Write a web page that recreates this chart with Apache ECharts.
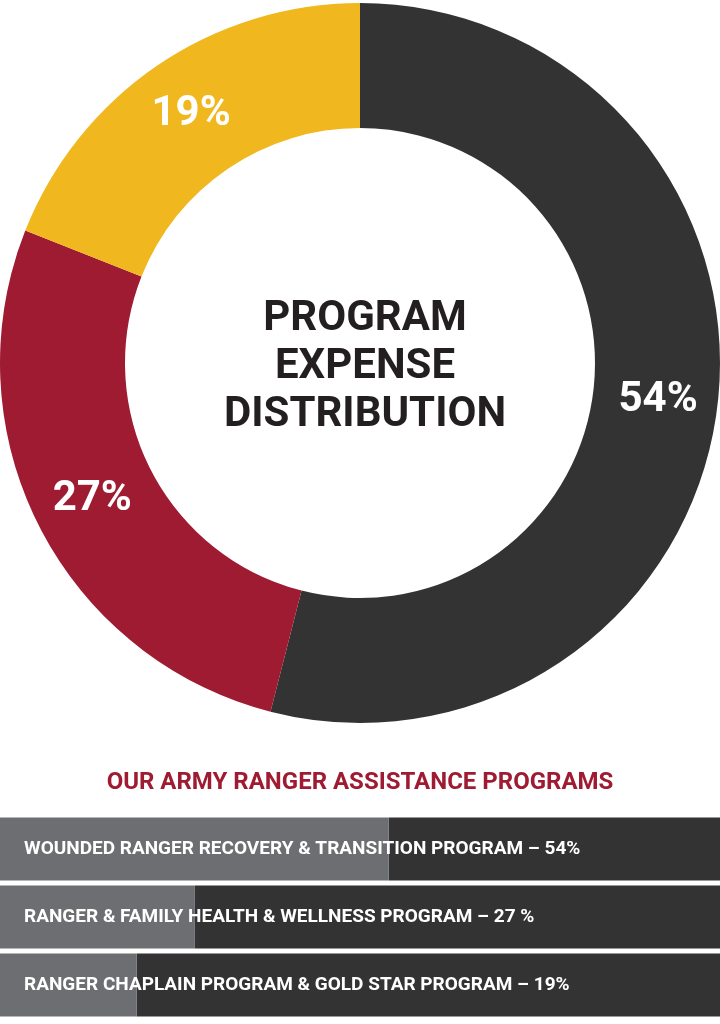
<!DOCTYPE html>
<html><head><meta charset="utf-8">
<script src="https://cdn.jsdelivr.net/npm/echarts@6/dist/echarts.min.js"></script>
<style>html,body{margin:0;padding:0;background:#fff}#c{width:720px;height:1024px}</style>
</head><body><div id="c"></div>
<script>
const sliceNames = ['Wounded Ranger Recovery & Transition', 'Ranger & Family Health & Wellness', 'Ranger Chaplain & Gold Star'];
const sliceValues = [54, 27, 19];
const sliceColors = ['#333333', '#9e1b32', '#f0b81e'];
const programLabels = [
  'WOUNDED RANGER RECOVERY & TRANSITION PROGRAM – 54%',
  'RANGER & FAMILY HEALTH & WELLNESS PROGRAM – 27 %',
  'RANGER CHAPLAIN PROGRAM & GOLD STAR PROGRAM – 19%'
];
const programValues = [54, 27, 19];
const remainder = programValues.map(v => 100 - v);

const chart = echarts.init(document.getElementById('c'));
chart.setOption({
  animation: false,
  title: [{
    text: 'OUR ARMY RANGER ASSISTANCE PROGRAMS', left: 'center', top: 766,
    textStyle: {color: '#9e1b32', fontFamily: 'Roboto', fontWeight: 'bold', fontSize: 24}
  }, {
    text: 'PROGRAM\nEXPENSE\nDISTRIBUTION', left: 360, top: 362, textAlign: 'center', textVerticalAlign: 'middle',
    textStyle: {color: '#231f20', fontFamily: 'Roboto', fontWeight: 'bold', fontSize: 42, lineHeight: 48}
  }],
  grid: {left: 0, right: 0, top: 815, bottom: 5},
  xAxis: {type: 'value', min: 0, max: 100, show: false},
  yAxis: {type: 'category', data: programLabels, inverse: true, show: false},
  series: [{
    type: 'pie', radius: [235, 360], center: [360, 363], startAngle: 90, clockwise: true,
    data: sliceNames.map((n, i) => ({name: n, value: sliceValues[i], itemStyle: {color: sliceColors[i]}})),
    label: {position: 'inside', formatter: '{c}%', color: '#fff', fontFamily: 'Roboto', fontWeight: 'bold', fontSize: 42},
    labelLine: {show: false}, emphasis: {disabled: true}
  }, {
    type: 'bar', stack: 's', data: programValues, barWidth: 63, itemStyle: {color: '#6d6e71'},
    label: {show: true, position: 'insideLeft', distance: 24, formatter: p => programLabels[p.dataIndex],
      color: '#fff', fontFamily: 'Roboto', fontWeight: 'bold', fontSize: 19}
  }, {
    type: 'bar', stack: 's', data: remainder, barWidth: 63, itemStyle: {color: '#333333'}, z: 1
  }]
});
</script></body></html>
